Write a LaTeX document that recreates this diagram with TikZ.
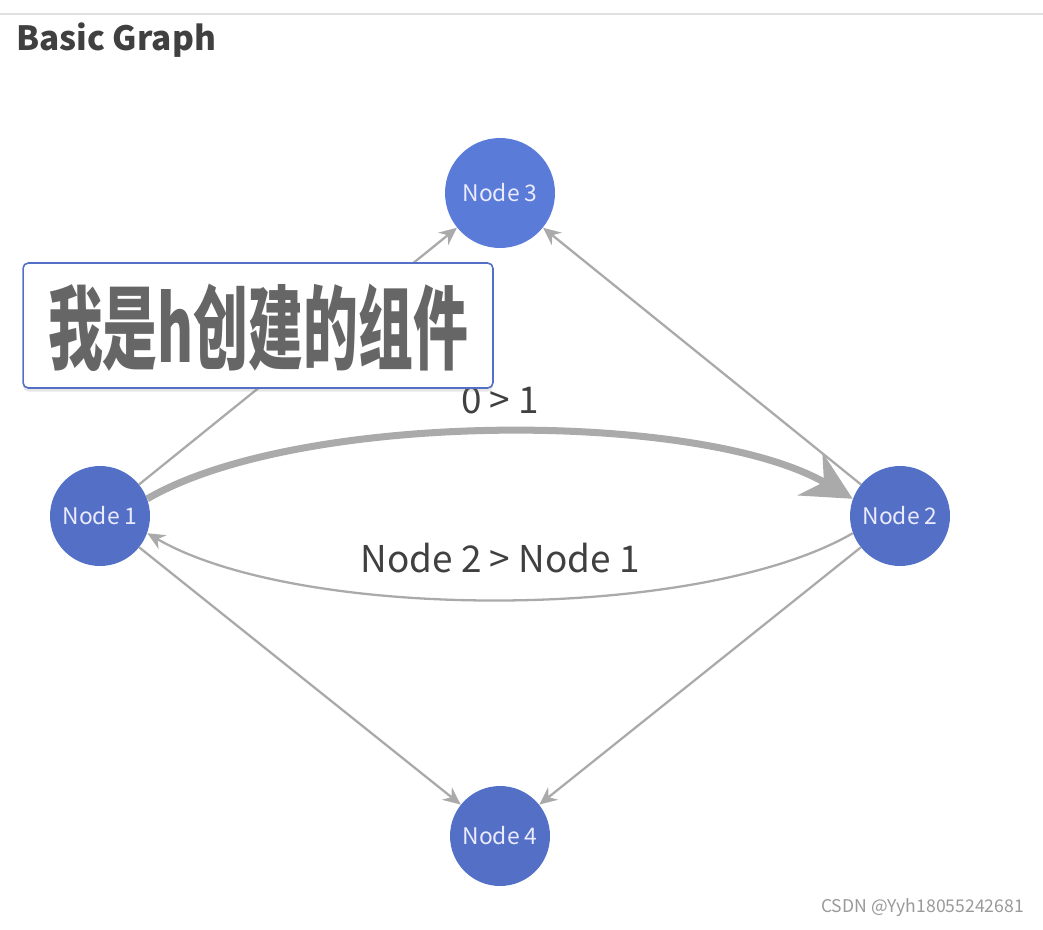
\documentclass[tikz,border=0pt]{standalone}
\usepackage{fontspec}
\setmainfont{Noto Sans CJK SC}
\usetikzlibrary{arrows.meta,shadows}
\definecolor{nodeblue}{HTML}{5470C6}
\definecolor{nodeblue3}{HTML}{5B7BD9}
\definecolor{edgegray}{HTML}{AAAAAA}
\tikzset{
  gnode/.style={circle,fill=nodeblue,minimum size=2cm,inner sep=0pt,text=white!92!blue,font=\fontsize{13}{15}\selectfont},
  gedge/.style={draw=edgegray,line width=1.3pt,-{Stealth[length=10pt,width=9pt]}},
  elabel/.style={text=black!75,font=\fontsize{21}{24}\selectfont},
}
\begin{document}
\begin{tikzpicture}[x=0.02cm,y=-0.02cm]
\useasboundingbox (0,0) rectangle (1043,929);
\draw[black!12,line width=0.8pt] (0,14) -- (1043,14);
\node[anchor=west,font=\bfseries\fontsize{19}{22}\selectfont,text=black!75] (title) at (10,40) {Basic Graph};
\node[gnode] (n1) at (100,516) {Node 1};
\node[gnode] (n2) at (900,516) {Node 2};
\node[gnode,fill=nodeblue3,minimum size=2.2cm] (n3) at (500,193) {Node 3};
\node[gnode] (n4) at (500,836) {Node 4};
\draw[gedge] (n1) -- (n3);
\draw[gedge] (n2) -- (n3);
\draw[gedge] (n1) -- (n4);
\draw[gedge] (n2) -- (n4);
\draw[draw=edgegray,line width=4pt,-{Stealth[length=28pt,width=28pt]}] (n1.20) .. controls (300,410) and (700,410) .. (n2.160);
\node[elabel] (l1) at (500,400) {0 > 1};
\draw[gedge] (n2.-160) .. controls (700,622) and (300,622) .. (n1.-20);
\node[elabel] (l2) at (500,558) {Node 2 > Node 1};
\node[draw=nodeblue,line width=0.9pt,fill=white,rounded corners=3pt,minimum width=9.4cm,minimum height=2.5cm,drop shadow={opacity=0.2,shadow xshift=0pt,shadow yshift=-2pt}] (tip) at (258,325.5) {};
\node[text=black!60,font=\bfseries\fontsize{52}{56}\selectfont,xscale=0.6] (tipt) at (258,328) {我是h创建的组件};
\node[anchor=east,text=black!40,font=\fontsize{10}{12}\selectfont] (wm) at (1030,908) {CSDN @Yyh18055242681};
\end{tikzpicture}
\end{document}
